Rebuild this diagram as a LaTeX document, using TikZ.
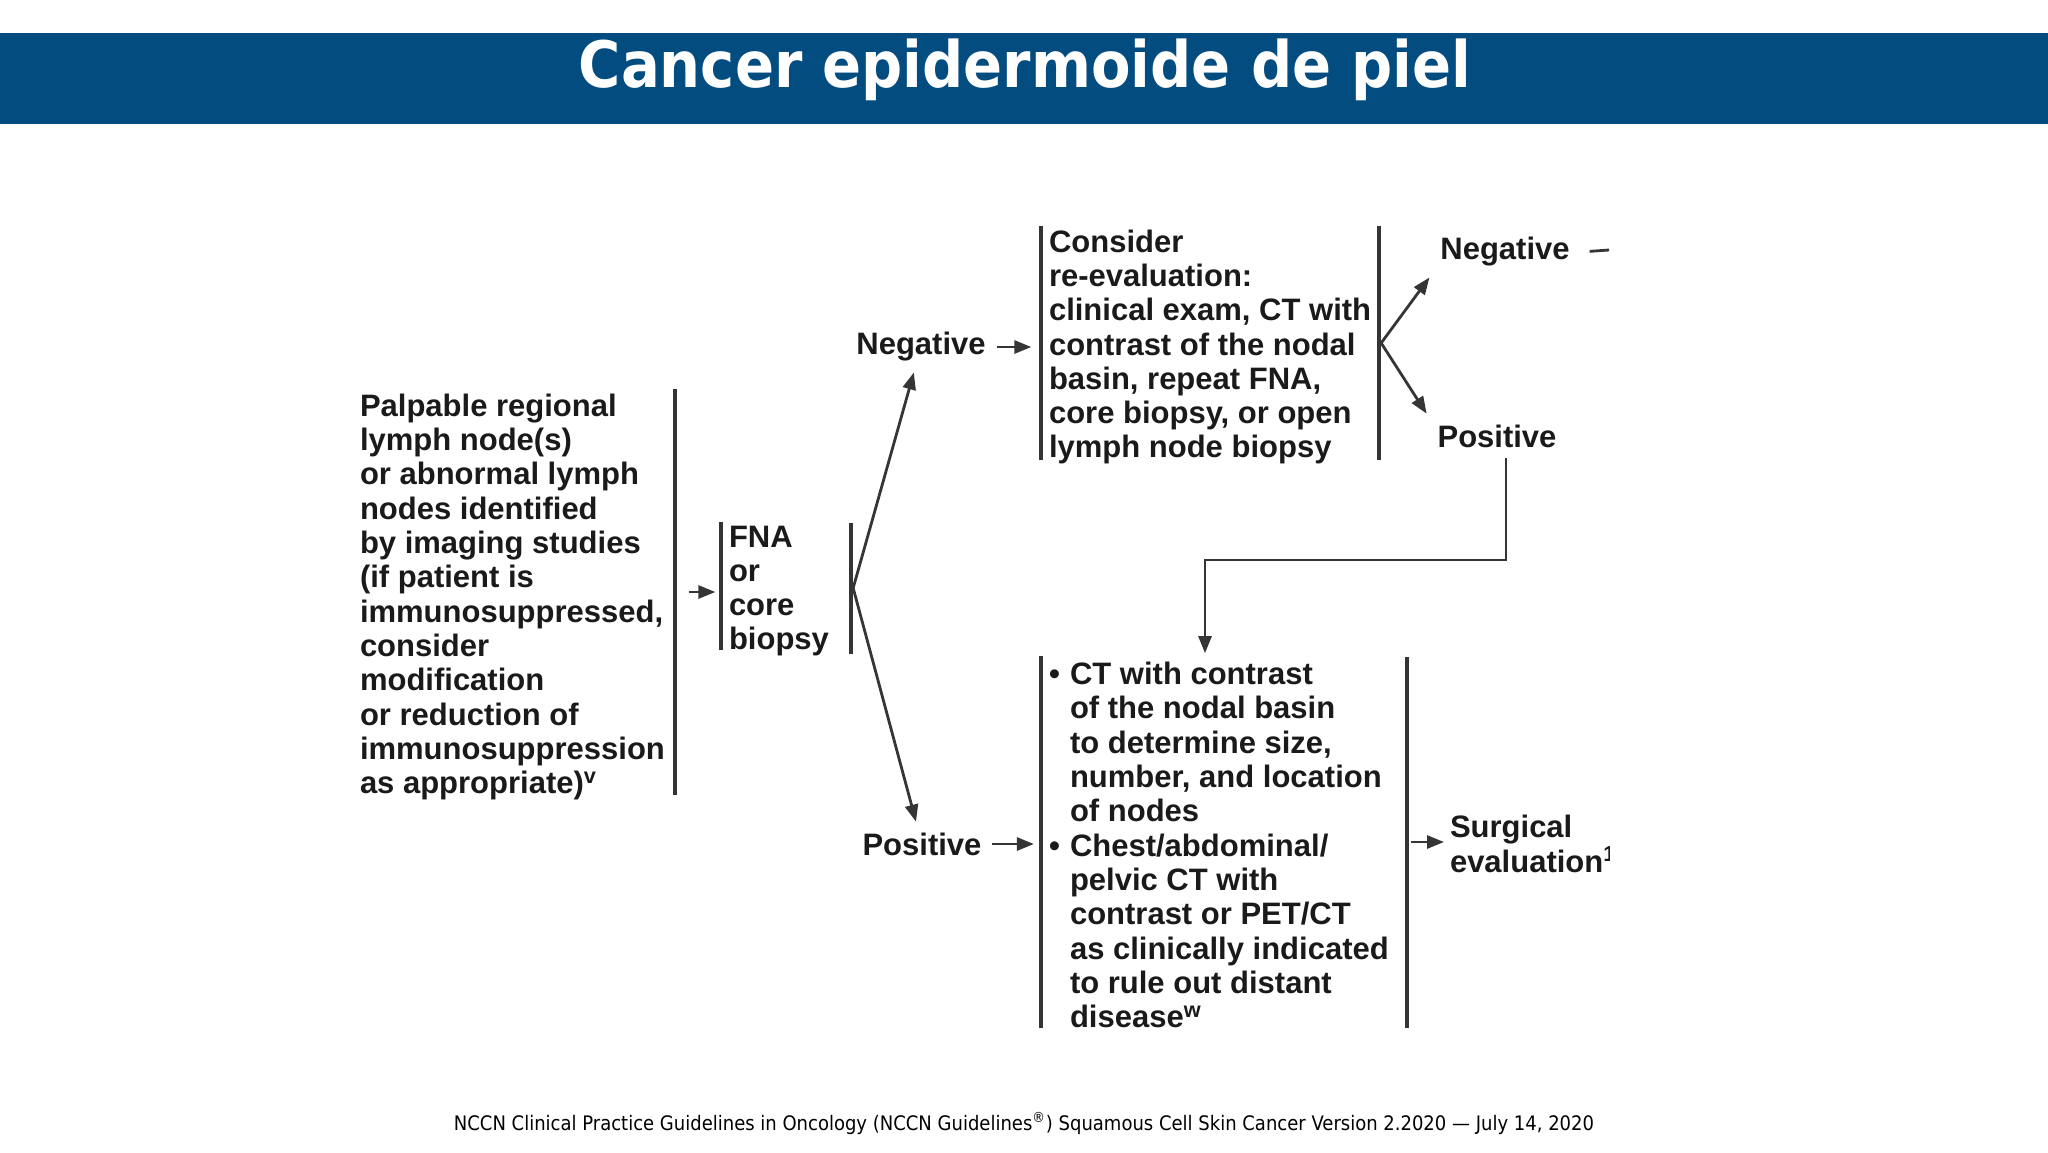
\documentclass[tikz,border=0pt]{standalone}
\usepackage{fontspec}
\setmainfont{Liberation Sans}
\newfontfamily\titlefont[FakeStretch=0.9]{DejaVu Sans}
\newfontfamily\footfont[FakeStretch=0.9]{DejaVu Sans}
\usetikzlibrary{arrows.meta,calc,positioning}
\definecolor{barblue}{HTML}{024C80}
\definecolor{ink}{HTML}{1A1A1A}
\definecolor{rule}{HTML}{353535}
\newcommand\bul{\makebox[10.5pt][l]{\textbullet}}
\newcommand\ind{\hspace*{10.5pt}}

\begin{document}
\begin{tikzpicture}[x=0.5pt, y=-0.5pt, >={Triangle[length=8.5pt,width=6.5pt]},
  txt/.style={inner sep=0pt, outer sep=0pt, align=left, text=ink, font=\fontsize{15.5}{17.15}\selectfont\bfseries},
  lbl/.style={txt, inner sep=3pt, outer sep=2.5pt},
  vbar/.style={fill=rule, inner sep=0pt, minimum width=1.75pt},
  arr/.style={->, draw=rule, line width=1.4pt}]
\path[use as bounding box] (0,0) rectangle (2048,1152);
\fill[barblue] (0,33) rectangle (2048,124);
\node[text=white, font=\titlefont\fontsize{32}{38}\selectfont\bfseries, anchor=base] (title) at (1025,87) {Cancer epidermoide de piel};
\node[font=\footfont\fontsize{10}{12}\selectfont, anchor=base] (foot) at (1024,1130) {NCCN Clinical Practice Guidelines in Oncology (NCCN Guidelines\textsuperscript{®}) Squamous Cell Skin Cancer Version 2.2020 — July 14, 2020};

\begin{scope}
\clip (0,0) rectangle (1609,1152);
\node[txt, anchor=west] (palp) at (360,597) {Palpable regional\\lymph node(s)\\or abnormal lymph\\nodes identified\\by imaging studies\\(if patient is\\immunosuppressed,\\consider\\modification\\or reduction of\\immunosuppression\\as appropriate)\textsuperscript{v}};
\node[vbar, minimum height=203pt] (bar1) at (675,592) {};
\node[vbar, minimum height=64pt] (bar2) at (721,586) {};
\node[txt, anchor=west] (fna) at (729,591) {FNA\\or\\core\\biopsy};
\node[vbar, minimum height=65.5pt] (bar3) at (851,588) {};
\node[lbl] (neg1) at (921,347) {Negative};
\node[lbl] (pos1) at (922,844) {Positive};
\node[vbar, minimum height=117pt] (bar4) at (1041,343) {};
\node[txt, anchor=west] (cons) at (1049,347) {Consider\\re-evaluation:\\clinical exam, CT with\\contrast of the nodal\\basin, repeat FNA,\\core biopsy, or open\\lymph node biopsy};
\node[vbar, minimum height=117pt] (bar5) at (1379,343) {};
\node[lbl] (neg2) at (1505,252) {Negative};
\node[lbl] (pos2) at (1497,436) {Positive};
\node[vbar, minimum height=186pt] (bar6) at (1041,842) {};
\node[txt, anchor=west] (imag) at (1049,845) {\bul CT with contrast\\\ind of the nodal basin\\\ind to determine size,\\\ind number, and location\\\ind of nodes\\\bul Chest/abdominal/\\\ind pelvic CT with\\\ind contrast or PET/CT\\\ind as clinically indicated\\\ind to rule out distant\\\ind disease\textsuperscript{w}};
\node[vbar, minimum height=185.5pt] (bar7) at (1407,842) {};
\node[txt, anchor=west] (surg) at (1450,844) {Surgical\\evaluation\textsuperscript{1}};
\coordinate (cut) at (1609,250);
\coordinate (kink) at (1205,560);

\draw[arr, shorten <=5.75pt, shorten >=1.75pt] (bar1.east) -- (bar1.east -| bar2.west);
\draw[arr] (bar3.east) -- (neg1);
\draw[arr] (bar3.east) -- (pos1);
\draw[arr, shorten >=3.75pt] (neg1.east) -- (neg1.east -| bar4.west);
\draw[arr] (bar5.east) -- (neg2.south west);
\draw[arr] (bar5.east) -- (pos2.north west);
\draw[draw=rule, line width=1.4pt, shorten <=4.5pt] (neg2.east) -- (cut);
\draw[arr, shorten >=4.5pt] ($(pos2.south)+(9,0)$) |- (kink) -- (kink |- imag.north);
\draw[arr, shorten >=2.5pt] (pos1.east) -- (pos1.east -| bar6.west);
\draw[arr, shorten <=1pt, shorten >=3pt] (bar7.east) -- (bar7.east -| surg.west);
\end{scope}
\end{tikzpicture}
\end{document}
